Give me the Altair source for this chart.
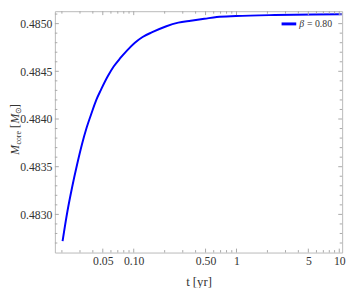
import altair as alt
import pandas as pd

# ---- data ----
t_yr = [0.02031, 0.02262, 0.02521, 0.02808, 0.03128, 0.03485, 0.03883, 0.04325,
        0.04819, 0.05606, 0.06381, 0.07424, 0.08634, 0.1026, 0.1220, 0.1514,
        0.2048, 0.2713, 0.3591, 0.4860, 0.6436, 0.9913, 2.352, 5.580, 10.6]
m_core = [0.48272, 0.48303, 0.48329, 0.48352, 0.48373, 0.48391, 0.48406, 0.48420,
          0.48431, 0.48445, 0.48455, 0.48464, 0.48472, 0.48480, 0.48486, 0.48491,
          0.48497, 0.48501, 0.48503, 0.48505, 0.48507, 0.48508, 0.48509, 0.485095,
          0.485098]

x_major = [0.05, 0.1, 0.5, 1, 5, 10]
x_major_labels = ["0.05", "0.10", "0.50", "1", "5", "10"]
x_minor = [0.02, 0.03, 0.04, 0.06, 0.07, 0.08, 0.09, 0.2, 0.3, 0.4, 0.6, 0.7,
           0.8, 0.9, 2, 3, 4, 6, 7, 8, 9]
y_major = [0.4830, 0.4835, 0.4840, 0.4845, 0.4850]
y_minor = [0.4827, 0.4828, 0.4829, 0.4831, 0.4832, 0.4833, 0.4834, 0.4836,
           0.4837, 0.4838, 0.4839, 0.4841, 0.4842, 0.4843, 0.4844, 0.4846,
           0.4847, 0.4848, 0.4849, 0.4851]

legend_label = "0.80"

# ---- layout / style ----
W, H = 294, 247
PAD_L = 48
FONT = "Liberation Serif"
TXT = "#333333"
FRAME = "#b8b8b8"
TICK = "#a8a8a8"

xscale = alt.Scale(type="log", domain=[0.0171, 10.67], nice=False)
yscale = alt.Scale(domain=[0.4826, 0.48513], nice=False, zero=False)

expr = "''"
for v, lab in reversed(list(zip(x_major, x_major_labels))):
    expr = f"abs(datum.value - {v}) < 1e-9 ? '{lab}' : ({expr})"

xaxis = alt.Axis(values=x_major, labelExpr=expr, title="t [yr]",
                 ticks=False, tickSize=0, domain=False, grid=False,
                 labelPadding=3, titlePadding=10, labelFlush=False)
yaxis = alt.Axis(values=y_major, format=".4f", title=None,
                 ticks=False, tickSize=0, domain=False, grid=False,
                 labelPadding=3)

df = pd.DataFrame({"t": t_yr, "m": m_core})

line = alt.Chart(df).mark_line(color="#0000ff", strokeWidth=2,
                               interpolate="monotone").encode(
    x=alt.X("t:Q", scale=xscale, axis=xaxis),
    y=alt.Y("m:Q", scale=yscale, axis=yaxis),
)

def xticks(vals, length):
    d = pd.DataFrame({"t": vals})
    bot = alt.Chart(d).mark_rule(color=TICK, strokeWidth=1).encode(
        x=alt.X("t:Q", scale=xscale, axis=xaxis),
        y=alt.value(H), y2=alt.value(H - length))
    top = alt.Chart(d).mark_rule(color=TICK, strokeWidth=1).encode(
        x=alt.X("t:Q", scale=xscale, axis=xaxis),
        y=alt.value(0), y2=alt.value(length))
    return [bot, top]

def yticks(vals, length):
    d = pd.DataFrame({"m": vals})
    left = alt.Chart(d).mark_rule(color=TICK, strokeWidth=1).encode(
        y=alt.Y("m:Q", scale=yscale, axis=yaxis),
        x=alt.value(0), x2=alt.value(length))
    right = alt.Chart(d).mark_rule(color=TICK, strokeWidth=1).encode(
        y=alt.Y("m:Q", scale=yscale, axis=yaxis),
        x=alt.value(W), x2=alt.value(W - length))
    return [left, right]

ticks = xticks(x_major, 4) + xticks(x_minor, 2.5) + yticks(y_major, 4) + yticks(y_minor, 2.5)

# y-axis title composed of pieces: M_core [M_sun]
one = pd.DataFrame({"a": [0]})
def ttxt(s, x, y, size, italic=False, angle=270):
    return alt.Chart(one).mark_text(
        text=s, font=FONT, fontSize=size, color=TXT, angle=angle,
        align="left", baseline="alphabetic",
        fontStyle="italic" if italic else "normal").encode(
        x=alt.value(x), y=alt.value(y))

BX = -37
title_parts = [
    ttxt("M", BX, 147, 12, italic=True),
    ttxt("core", BX + 2.5, 136.5, 8),
    ttxt("[", BX, 119.5, 12),
    ttxt("M", BX, 115, 12, italic=True),
    ttxt("\u2299", BX + 2.5, 105, 8),
    ttxt("]", BX, 99, 12),
]

# legend
leg_line = alt.Chart(one).mark_rule(color="#0000ff", strokeWidth=3).encode(
    x=alt.value(232), x2=alt.value(247), y=alt.value(13))
leg_beta = ttxt("\u03b2", 250, 16.5, 10, italic=True, angle=0)
leg_val = ttxt("= " + legend_label, 258, 16.5, 10, angle=0)

chart = alt.layer(line, *ticks, *title_parts, leg_line, leg_beta, leg_val).properties(
    width=W, height=H,
    autosize=alt.AutoSizeParams(type="none"),
    padding={"left": PAD_L, "top": 0, "right": 7, "bottom": 33},
).configure_view(stroke=FRAME, strokeWidth=1).configure_axis(
    labelFont=FONT, labelFontSize=12, labelColor=TXT,
    titleFont=FONT, titleFontSize=13, titleColor=TXT, titleFontWeight="normal",
)

chart.save("out.html", embed_options={"renderer": "svg", "actions": False})
